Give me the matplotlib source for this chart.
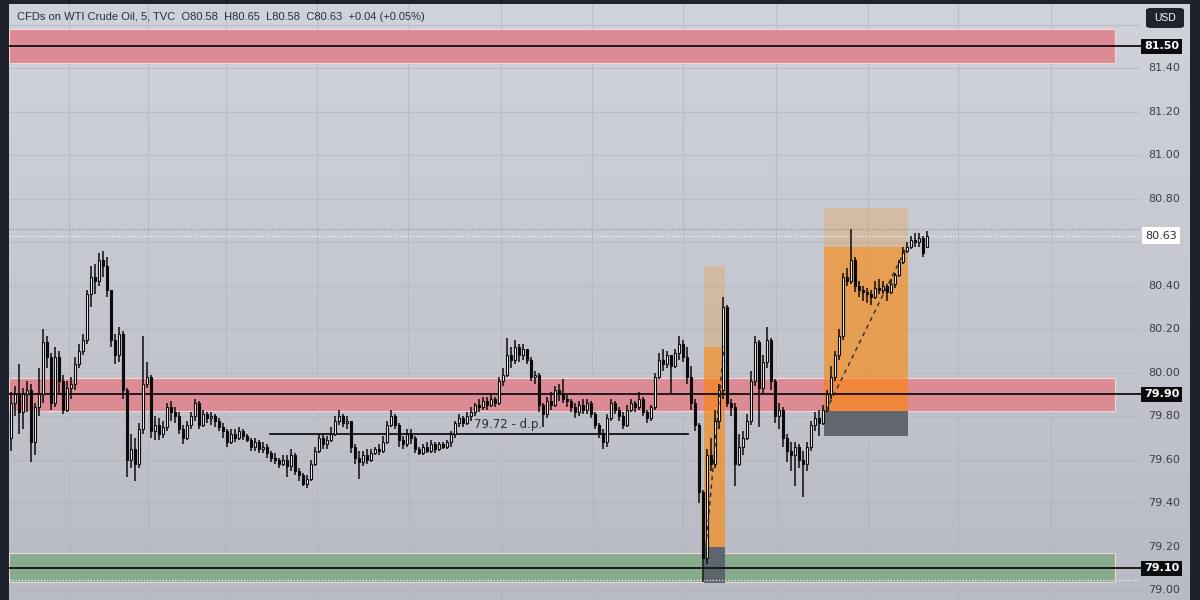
import numpy as np
import matplotlib
matplotlib.use('Agg')
import matplotlib.pyplot as plt
from matplotlib.patches import Rectangle, FancyBboxPatch
from matplotlib import transforms

# 5-minute WTI candles
opens = [
    79.70, 79.86, 79.90, 79.82, 79.90, 79.92, 79.68, 79.84, 79.90, 80.14,
    80.07, 79.86, 80.07, 79.96, 79.83, 79.93, 79.95, 80.04, 80.10, 80.15,
    80.36, 80.44, 80.42, 80.52, 80.49, 80.38, 80.15, 80.08, 80.18, 79.92,
    79.60, 79.65, 79.58, 79.74, 79.95, 79.98, 79.73, 79.76, 79.72, 79.75,
    79.84, 79.82, 79.80, 79.74, 79.70, 79.76, 79.80, 79.86, 79.76, 79.81,
    79.79, 79.80, 79.78, 79.75, 79.73, 79.68, 79.72, 79.70, 79.73, 79.71,
    79.69, 79.66, 79.68, 79.65, 79.66, 79.63, 79.61, 79.60, 79.58, 79.60,
    79.57, 79.62, 79.55, 79.53, 79.49, 79.51, 79.58, 79.64, 79.70, 79.67,
    79.69, 79.72, 79.78, 79.80, 79.77, 79.78, 79.66, 79.61, 79.59, 79.62,
    79.60, 79.63, 79.65, 79.64, 79.68, 79.76, 79.80, 79.76, 79.69, 79.67,
    79.72, 79.70, 79.65, 79.63, 79.66, 79.64, 79.67, 79.65, 79.67, 79.66,
    79.68, 79.72, 79.77, 79.79, 79.77, 79.80, 79.82, 79.85, 79.84, 79.87,
    79.85, 79.88, 79.86, 79.96, 79.99, 80.08, 80.06, 80.12, 80.08, 80.11,
    80.06, 79.98, 79.99, 79.85, 79.81, 79.87, 79.85, 79.92, 79.90, 79.88,
    79.87, 79.84, 79.82, 79.85, 79.83, 79.86, 79.81, 79.76, 79.72, 79.68,
    79.79, 79.86, 79.83, 79.80, 79.76, 79.83, 79.86, 79.84, 79.88, 79.82,
    79.79, 79.84, 79.98, 80.06, 80.04, 80.08, 80.03, 80.09, 80.13, 80.07,
    79.98, 79.86, 79.76, 79.45, 79.15, 79.62, 79.58, 79.78, 79.92, 80.30,
    79.86, 79.84, 79.58, 79.66, 79.70, 79.78, 79.96, 80.14, 79.93, 80.05,
    80.15, 79.96, 79.80, 79.83, 79.70, 79.64, 79.62, 79.66, 79.60, 79.58,
    79.66, 79.76, 79.79, 79.77, 79.83, 79.90, 79.98, 80.08, 80.17, 80.44,
    80.42, 80.52, 80.40, 80.38, 80.37, 80.36, 80.35, 80.39, 80.38, 80.40,
    80.37, 80.41, 80.45, 80.51, 80.56, 80.58, 80.61, 80.60, 80.62, 80.58,
]
highs = [
    79.91, 79.94, 80.04, 79.93, 79.96, 79.95, 79.86, 80.02, 80.20, 80.17,
    80.09, 80.12, 80.10, 79.99, 79.96, 79.98, 80.07, 80.13, 80.18, 80.38,
    80.49, 80.50, 80.55, 80.56, 80.53, 80.38, 80.18, 80.21, 80.19, 79.93,
    79.72, 79.70, 79.77, 80.17, 80.05, 79.99, 79.80, 79.79, 79.78, 79.86,
    79.87, 79.84, 79.82, 79.76, 79.78, 79.82, 79.88, 79.87, 79.83, 79.82,
    79.82, 79.81, 79.79, 79.77, 79.74, 79.74, 79.74, 79.75, 79.74, 79.72,
    79.70, 79.70, 79.69, 79.68, 79.67, 79.64, 79.63, 79.61, 79.62, 79.62,
    79.65, 79.63, 79.56, 79.54, 79.53, 79.60, 79.66, 79.72, 79.72, 79.71,
    79.75, 79.80, 79.83, 79.81, 79.80, 79.78, 79.67, 79.64, 79.64, 79.65,
    79.65, 79.66, 79.67, 79.71, 79.78, 79.83, 79.81, 79.77, 79.71, 79.74,
    79.74, 79.71, 79.66, 79.67, 79.68, 79.69, 79.68, 79.68, 79.68, 79.69,
    79.73, 79.78, 79.81, 79.80, 79.82, 79.84, 79.86, 79.88, 79.89, 79.89,
    79.90, 79.89, 79.98, 80.02, 80.16, 80.12, 80.15, 80.13, 80.13, 80.11,
    80.07, 80.01, 80.00, 79.86, 79.89, 79.91, 79.94, 79.95, 79.97, 79.90,
    79.88, 79.86, 79.87, 79.88, 79.88, 79.87, 79.82, 79.77, 79.74, 79.81,
    79.88, 79.87, 79.84, 79.82, 79.85, 79.88, 79.87, 79.91, 79.89, 79.83,
    79.85, 80.00, 80.09, 80.11, 80.10, 80.08, 80.11, 80.17, 80.15, 80.12,
    80.03, 79.88, 79.77, 79.46, 79.65, 79.70, 79.83, 79.95, 80.35, 80.31,
    79.88, 79.86, 79.72, 79.73, 79.81, 80.01, 80.17, 80.15, 80.08, 80.21,
    80.16, 79.97, 79.86, 79.84, 79.72, 79.68, 79.68, 79.67, 79.64, 79.68,
    79.78, 79.82, 79.83, 79.85, 79.92, 80.03, 80.10, 80.20, 80.46, 80.48,
    80.66, 80.53, 80.42, 80.40, 80.39, 80.38, 80.42, 80.43, 80.42, 80.41,
    80.43, 80.46, 80.52, 80.58, 80.60, 80.63, 80.64, 80.64, 80.63, 80.65,
]
lows = [
    79.64, 79.80, 79.72, 79.74, 79.82, 79.59, 79.62, 79.80, 79.86, 80.02,
    79.83, 79.84, 79.90, 79.81, 79.82, 79.88, 79.92, 80.02, 80.08, 80.13,
    80.30, 80.36, 80.40, 80.44, 80.35, 80.12, 80.04, 80.05, 79.88, 79.52,
    79.56, 79.50, 79.56, 79.72, 79.93, 79.70, 79.69, 79.69, 79.70, 79.73,
    79.78, 79.77, 79.72, 79.67, 79.69, 79.74, 79.78, 79.74, 79.75, 79.77,
    79.76, 79.75, 79.73, 79.70, 79.66, 79.67, 79.68, 79.69, 79.69, 79.68,
    79.64, 79.64, 79.63, 79.63, 79.61, 79.59, 79.58, 79.56, 79.57, 79.52,
    79.55, 79.53, 79.50, 79.48, 79.47, 79.50, 79.57, 79.63, 79.65, 79.65,
    79.68, 79.71, 79.76, 79.75, 79.74, 79.63, 79.58, 79.51, 79.57, 79.58,
    79.59, 79.62, 79.62, 79.63, 79.67, 79.75, 79.74, 79.66, 79.65, 79.66,
    79.67, 79.63, 79.62, 79.62, 79.63, 79.63, 79.63, 79.64, 79.65, 79.65,
    79.66, 79.70, 79.75, 79.75, 79.76, 79.78, 79.80, 79.82, 79.83, 79.83,
    79.84, 79.84, 79.85, 79.94, 79.98, 80.02, 80.04, 80.05, 80.06, 80.04,
    79.96, 79.95, 79.82, 79.75, 79.79, 79.83, 79.84, 79.87, 79.86, 79.84,
    79.82, 79.79, 79.80, 79.81, 79.81, 79.79, 79.74, 79.70, 79.65, 79.66,
    79.78, 79.81, 79.78, 79.74, 79.75, 79.82, 79.82, 79.83, 79.80, 79.77,
    79.78, 79.83, 79.97, 80.01, 80.02, 79.90, 80.02, 80.06, 80.05, 79.95,
    79.83, 79.73, 79.40, 79.04, 79.12, 79.55, 79.56, 79.74, 79.88, 79.84,
    79.80, 79.48, 79.57, 79.62, 79.69, 79.76, 79.94, 79.75, 79.90, 80.02,
    79.92, 79.77, 79.74, 79.66, 79.59, 79.55, 79.48, 79.56, 79.43, 79.55,
    79.64, 79.73, 79.71, 79.76, 79.82, 79.88, 79.96, 80.06, 80.15, 80.40,
    80.41, 80.37, 80.35, 80.33, 80.32, 80.31, 80.34, 80.36, 80.36, 80.33,
    80.36, 80.39, 80.44, 80.50, 80.55, 80.57, 80.58, 80.58, 80.53, 80.58,
]
closes = [
    79.86, 79.90, 79.82, 79.90, 79.92, 79.68, 79.84, 79.90, 80.14, 80.07,
    79.86, 80.07, 79.96, 79.83, 79.93, 79.95, 80.04, 80.10, 80.15, 80.36,
    80.44, 80.42, 80.52, 80.49, 80.38, 80.15, 80.08, 80.18, 79.92, 79.60,
    79.65, 79.58, 79.74, 79.95, 79.98, 79.73, 79.76, 79.72, 79.75, 79.84,
    79.82, 79.80, 79.74, 79.70, 79.76, 79.80, 79.86, 79.76, 79.81, 79.79,
    79.80, 79.78, 79.75, 79.73, 79.68, 79.72, 79.70, 79.73, 79.71, 79.69,
    79.66, 79.68, 79.65, 79.66, 79.63, 79.61, 79.60, 79.58, 79.60, 79.57,
    79.62, 79.55, 79.53, 79.49, 79.51, 79.58, 79.64, 79.70, 79.67, 79.69,
    79.72, 79.78, 79.80, 79.77, 79.78, 79.66, 79.61, 79.59, 79.62, 79.60,
    79.63, 79.65, 79.64, 79.68, 79.76, 79.80, 79.76, 79.69, 79.67, 79.72,
    79.70, 79.65, 79.63, 79.66, 79.64, 79.67, 79.65, 79.67, 79.66, 79.68,
    79.72, 79.77, 79.79, 79.77, 79.80, 79.82, 79.85, 79.84, 79.87, 79.85,
    79.88, 79.86, 79.96, 79.99, 80.08, 80.06, 80.12, 80.08, 80.11, 80.06,
    79.98, 79.99, 79.85, 79.81, 79.87, 79.85, 79.92, 79.90, 79.88, 79.87,
    79.84, 79.82, 79.85, 79.83, 79.86, 79.81, 79.76, 79.72, 79.68, 79.79,
    79.86, 79.83, 79.80, 79.76, 79.83, 79.86, 79.84, 79.88, 79.82, 79.79,
    79.84, 79.98, 80.06, 80.04, 80.08, 80.03, 80.09, 80.13, 80.07, 79.98,
    79.86, 79.76, 79.45, 79.15, 79.62, 79.58, 79.78, 79.92, 80.30, 79.86,
    79.84, 79.58, 79.66, 79.70, 79.78, 79.96, 80.14, 79.93, 80.05, 80.15,
    79.96, 79.80, 79.83, 79.70, 79.64, 79.62, 79.66, 79.60, 79.58, 79.66,
    79.76, 79.79, 79.77, 79.83, 79.90, 79.98, 80.08, 80.17, 80.44, 80.42,
    80.52, 80.40, 80.38, 80.37, 80.36, 80.35, 80.39, 80.38, 80.40, 80.37,
    80.41, 80.45, 80.51, 80.56, 80.58, 80.61, 80.60, 80.62, 80.55, 80.63,
]

# drawn levels
zone_levels = [81.50, 79.90, 79.10]
zone_bands = [(81.425, 81.58), (79.825, 79.975), (79.04, 79.17)]
zone_colors = ['#dc8a94', '#dc8a94', '#89ab8d']
dp_level = 79.72
dp_label = '79.72 - d.p.'
dp_span = (64.75, 169.25)
last_price = 80.63
session_high = 80.66
session_low = 79.045
price_ticks = [79.00, 79.20, 79.40, 79.60, 79.80, 80.00, 80.20, 80.40, 80.80, 81.00, 81.20, 81.40]
time_grid = [14.5, 34.25, 53.75, 76.5, 99.25, 122.5, 145.25, 168, 191.25, 214.25, 236.75, 260]

# long positions: (x0, x1, entry, stop, target, price at end)
positions = [
    (173.25, 178.5, 79.20, 79.035, 80.49, 80.12),
    (203.25, 224.25, 79.825, 79.71, 80.755, 80.58),
]

header = 'CFDs on WTI Crude Oil, 5, TVC  O80.58  H80.65  L80.58  C80.63  +0.04 (+0.05%)'

W, H = 1200, 600
fig = plt.figure(figsize=(12, 6), dpi=100)
fig.patch.set_facecolor('#1e222d')

# background gradient (chart + price scale)
bg = fig.add_axes([9 / W, 0, 1181 / W, 596 / H])
grad = np.linspace(0, 1, 256).reshape(-1, 1)
top = np.array([209, 211, 219]) / 255
bot = np.array([184, 187, 196]) / 255
img = top + (bot - top) * grad[:, :, None]
bg.imshow(img, aspect='auto', extent=[0, 1, 0, 1])
bg.set_axis_off()

ax = fig.add_axes([9 / W, 0, 1131 / W, 596 / H])
ax.set_facecolor('none')
ymin, ymax = 78.955, 81.695
xmin, xmax = -0.5, 282.25
ax.set_xlim(xmin, xmax)
ax.set_ylim(ymin, ymax)
for s in ax.spines.values():
    s.set_visible(False)
ax.set_xticks([])
ax.set_yticks([])

# grid
for gx in time_grid:
    ax.axvline(gx, color='#b3b6bf', lw=0.8, alpha=0.7, zorder=0)
for gy in np.arange(79.0, 81.61, 0.2):
    ax.axhline(gy, color='#b3b6bf', lw=0.8, alpha=0.7, zorder=0)

# zones
for (lo, hi), col in zip(zone_bands, zone_colors):
    ax.add_patch(Rectangle((xmin, lo), 276.5, hi - lo, facecolor=col,
                           edgecolor='#f0d6d9', lw=0.8, zorder=1))

# position boxes
for x0, x1, entry, stop, target, endp in positions:
    w = x1 - x0
    ax.add_patch(Rectangle((x0, endp), w, target - endp, facecolor='#ff8c00',
                           alpha=0.22, lw=0, zorder=2))
    ax.add_patch(Rectangle((x0, entry), w, endp - entry, facecolor='#ff8400',
                           alpha=0.6, lw=0, zorder=2))
    ax.add_patch(Rectangle((x0, stop), w, entry - stop, facecolor='#5a5f6a',
                           alpha=0.93, lw=0, zorder=2))
    ax.plot([x0 + 0.5, x1 - 0.3], [entry, endp], color='#2a2a2a', lw=1,
            ls=(0, (3, 3)), zorder=6)

# level lines
for lv in zone_levels:
    ax.axhline(lv, color='#111111', lw=1.3, zorder=3)
ax.plot(dp_span, [dp_level, dp_level], color='#111111', lw=1.3, zorder=3)
ax.text(124.25, dp_level + 0.012, dp_label, ha='center', va='bottom',
        fontsize=8.5, color='#2a2e39', family='DejaVu Sans', zorder=7)
ax.axhline(session_high, color='#8f939c', lw=0.9, ls=(0, (1, 1.5)), zorder=3)
ax.axhline(last_price, color='#f4f5f8', lw=0.9, ls=(0, (1, 1.5)), zorder=3)
ax.axhline(session_low, color='#f4f5f8', lw=0.9, ls=(0, (1, 1.5)), zorder=3)

# candles
o = np.array(opens)
c = np.array(closes)
x = np.arange(len(c))
ax.vlines(x, lows, highs, color='#0c0c0c', lw=1.1, zorder=4)
up = c >= o
ax.bar(x[up], np.maximum(c[up] - o[up], 0.004), bottom=o[up], width=0.72,
       color='white', edgecolor='#0c0c0c', lw=0.8, zorder=5)
ax.bar(x[~up], np.maximum(o[~up] - c[~up], 0.004), bottom=c[~up], width=0.72,
       color='#0c0c0c', edgecolor='#0c0c0c', lw=0.8, zorder=5)

# price scale labels
tr = transforms.blended_transform_factory(fig.transFigure, ax.transData)
for p in price_ticks:
    ax.text(1148 / W, p, f'{p:.2f}', transform=tr, ha='left', va='center',
            fontsize=8, color='#3b3e48', clip_on=False)
for lv in zone_levels:
    ax.plot([1140 / W, 1141 / W], [lv, lv], transform=tr, color='#111111', lw=1.3, clip_on=False)
    ax.text(1161.5 / W, lv, f'{lv:.2f}', transform=tr, ha='center', va='center',
            fontsize=8, color='white', fontweight='bold', clip_on=False,
            bbox=dict(boxstyle='square,pad=0.25', fc='#0d0d0f', ec='none'))
ax.text(1161 / W, last_price, f'{last_price:.2f}', transform=tr, ha='center', va='center',
        fontsize=8, color='#2a2e39', clip_on=False,
        bbox=dict(boxstyle='square,pad=0.3', fc='white', ec='none'))

# header and currency button
fig.text(17 / W, 1 - 17 / H, header, ha='left', va='center', fontsize=8,
         color='#2a2e39', family='Liberation Sans')
fig.patches.append(FancyBboxPatch((1146 / W, 1 - 28 / H), 38 / W, 20 / H,
                                  boxstyle='round,pad=0,rounding_size=0.004',
                                  transform=fig.transFigure, fc='#1f232e', ec='none'))
fig.text(1165 / W, 1 - 18 / H, 'USD', ha='center', va='center', fontsize=7.5,
         color='white', family='Liberation Sans')

fig.savefig('out.png', dpi=100, facecolor=fig.get_facecolor())
